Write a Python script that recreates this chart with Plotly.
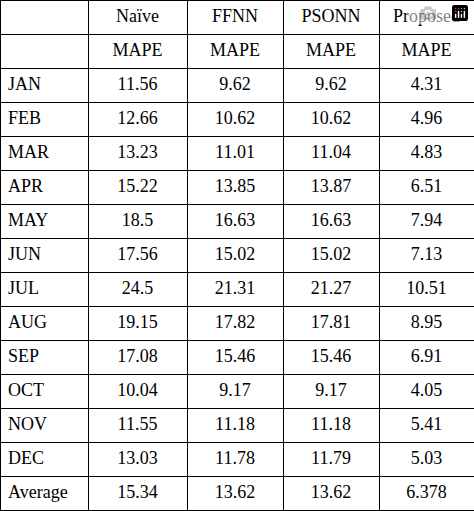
import plotly.graph_objects as go

columns = ["", "Naïve", "FFNN", "PSONN", "Proposed"]
months = ["", "JAN", "FEB", "MAR", "APR", "MAY", "JUN", "JUL", "AUG", "SEP", "OCT", "NOV", "DEC", "Average"]
naive = ["MAPE", "11.56", "12.66", "13.23", "15.22", "18.5", "17.56", "24.5", "19.15", "17.08", "10.04", "11.55", "13.03", "15.34"]
ffnn = ["MAPE", "9.62", "10.62", "11.01", "13.85", "16.63", "15.02", "21.31", "17.82", "15.46", "9.17", "11.18", "11.78", "13.62"]
psonn = ["MAPE", "9.62", "10.62", "11.04", "13.87", "16.63", "15.02", "21.27", "17.81", "15.46", "9.17", "11.18", "11.79", "13.62"]
proposed = ["MAPE", "4.31", "4.96", "4.83", "6.51", "7.94", "7.13", "10.51", "8.95", "6.91", "4.05", "5.41", "5.03", "6.378"]

font = dict(family="Liberation Serif", size=18, color="black")
fig = go.Figure(go.Table(
    columnwidth=[88, 99, 96, 96, 95],
    header=dict(values=columns, align=["left", "center"], font=font,
                line=dict(color="black", width=1), fill_color="white", height=34),
    cells=dict(values=[months, naive, ffnn, psonn, proposed], align=["left", "center"],
               font=font, line=dict(color="black", width=1), fill_color="white", height=34),
))
fig.update_layout(width=474, height=511, margin=dict(l=0, r=0, t=0, b=0),
                  paper_bgcolor="white")
fig.write_html("out.html", post_script="document.body.style.margin='0';document.body.style.overflow='hidden';")
